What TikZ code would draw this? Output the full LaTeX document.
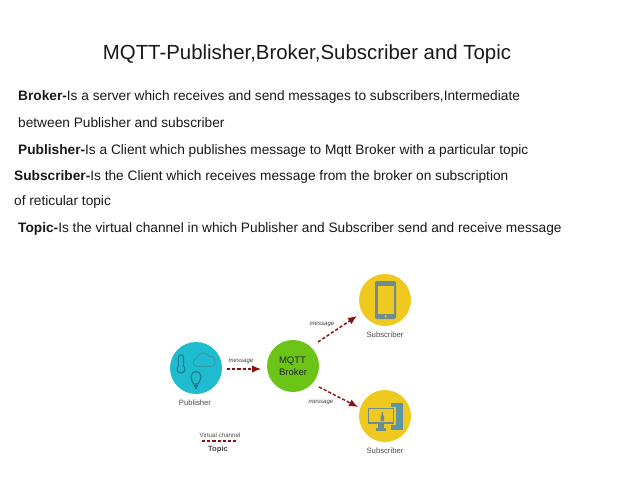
\documentclass[tikz,border=0pt]{standalone}
\usepackage{fontspec}
\setmainfont{Liberation Sans}
\usetikzlibrary{arrows.meta}
\definecolor{dkred}{HTML}{8B1010}
\definecolor{iconblue}{HTML}{17808F}
\definecolor{cloudc}{HTML}{2F9DB0}
\definecolor{slate}{HTML}{6F8C90}
\definecolor{tower}{HTML}{5F93A6}
\definecolor{pubc}{HTML}{1FBBCE}
\definecolor{brkc}{HTML}{6CC417}
\definecolor{subc}{HTML}{EFC920}
\tikzset{
  x=1pt,y=-1pt,
  txtline/.style={anchor=west,inner sep=0pt,font=\fontsize{13.7}{16}\selectfont,text=black!90},
  hub/.style={circle,minimum size=52pt,inner sep=0pt},
  capt/.style={font=\fontsize{7.7}{9}\selectfont,text=black!70,inner sep=0pt},
  msg/.style={font=\itshape\fontsize{6.1}{7}\selectfont,text=black!75,inner sep=0pt},
  flow/.style={draw=dkred,line width=1.4pt,dash pattern=on 3.2pt off 2pt,-{Latex[length=9pt,width=7.5pt,fill=dkred]}},
}
\begin{document}
\begin{tikzpicture}
\useasboundingbox (0,0) rectangle (638,479);
\fill[white] (0,0) rectangle (638,479);
\node[anchor=center,inner sep=0pt,font=\fontsize{20.4}{24}\selectfont,text=black!90] (title) at (307,54.5) {MQTT-Publisher,Broker,Subscriber and Topic};
\node[txtline] (t1) at (18,96.5) {\textbf{Broker-}Is a server which receives and send messages to subscribers,Intermediate};
\node[txtline] (t2) at (18,123) {between Publisher and subscriber};
\node[txtline] (t3) at (18,151) {\textbf{Publisher-}Is a Client which publishes message to Mqtt Broker with a particular topic};
\node[txtline] (t4) at (14,176.5) {\textbf{Subscriber-}Is the Client which receives message from the broker on subscription};
\node[txtline] (t5) at (14,201.5) {of reticular topic};
\node[txtline] (t6) at (18,228.5) {\textbf{Topic-}Is the virtual channel in which Publisher and Subscriber send and receive message};

\node[hub,fill=pubc] (pub) at (196,368) {};
\node[hub,fill=brkc,font=\fontsize{9.5}{12}\selectfont,align=left,text=black!85] (brk) at (293,366) {MQTT\\Broker};
\node[hub,fill=subc] (s1) at (385,300) {};
\node[hub,fill=subc] (s2) at (385,416) {};

\node[capt] (lp) at (195,403) {Publisher};
\node[capt] (l1) at (385,335) {Subscriber};
\node[capt] (l2) at (385,451) {Subscriber};

\coordinate (a1) at (227,369);
\coordinate (a2) at (261,369);
\draw[flow] (a1) -- (a2);
\coordinate (b1) at (318,342);
\coordinate (b2) at (357,316);
\draw[flow] (b1) -- (b2);
\coordinate (c1) at (319,387);
\coordinate (c2) at (358,407);
\draw[flow] (c1) -- (c2);
\node[msg] (m1) at (241,361) {message};
\node[msg] (m2) at (322,324) {message};
\node[msg] (m3) at (321,402.5) {message};

\node[capt,font=\fontsize{6.2}{7}\selectfont] (vc) at (220,435) {Virtual channel};
\coordinate (v1) at (202,441);
\coordinate (v2) at (236,441);
\draw[draw=dkred,line width=1.4pt,dash pattern=on 3.2pt off 2pt] (v1) -- (v2);
\node[capt,font=\bfseries\fontsize{7.6}{9}\selectfont] (tp) at (218,450) {Topic};

% publisher icons
\draw[iconblue,line width=1.1pt] (178.4,366) arc (230:-50:4) -- (183.6,357.5) arc (0:-180:2.6) -- cycle;
\draw[cloudc,line width=.9pt] (197,366.5) .. controls (191.5,366) and (192,358.5) .. (197,358) .. controls (198,352) and (207,351.5) .. (209,356.5) .. controls (213,355.5) and (215.5,358.5) .. (214.5,361) .. controls (216,363.5) and (214.5,366.5) .. (212,366.5) -- cycle;
\draw[iconblue,line width=1.1pt] (193.5,384) .. controls (193,381.5) and (190.8,380) .. (191,376.5) arc (180:360:5) .. controls (201.2,380) and (198.5,381.5) .. (198,384) -- cycle;
\draw[iconblue,line width=1.1pt] (194,386) -- (197.5,386) (194.5,388) -- (197,388);

% phone
\fill[slate,rounded corners=2pt] (375,281) rectangle (396,319);
\fill[subc] (377.5,286) rectangle (393.5,313.5);
\fill[subc] (385.5,316.2) circle (1.2);

% desktop
\fill[tower] (391,403) rectangle (403,430);
\fill[subc] (366.5,406.5) rectangle (395.5,425);
\draw[slate,line width=1.5pt] (368.5,408.5) rectangle (393.5,423);
\fill[slate] (378,423) rectangle (384,428);
\fill[slate] (376,428) rectangle (386,430.5);
\fill[slate] (380.5,415.5) rectangle (384,421) (381.5,412) rectangle (383,416);
\end{tikzpicture}
\end{document}
